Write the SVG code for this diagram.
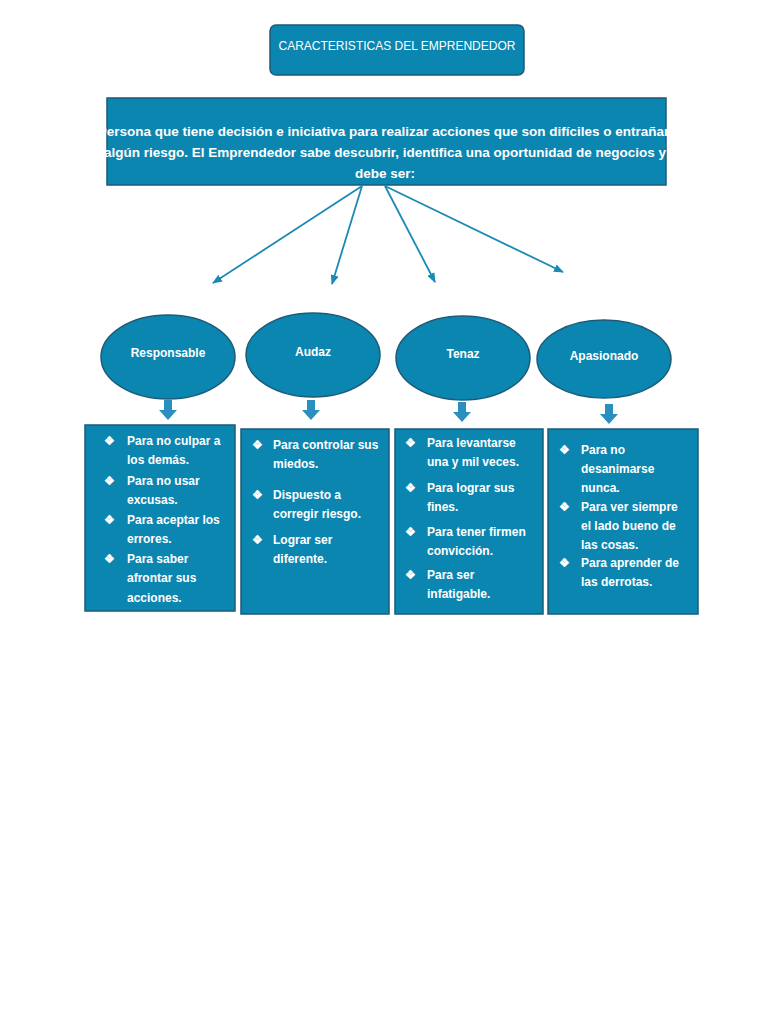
<svg xmlns="http://www.w3.org/2000/svg" width="768" height="1024" viewBox="0 0 768 1024">
<defs>
<style>
.b{fill:#0b86b0;stroke:#1d5b78;stroke-width:1.5}
.t{font-family:"Liberation Sans",Arial,sans-serif;font-weight:bold;fill:#fff;font-size:12px}
.h{font-family:"Liberation Sans",Arial,sans-serif;font-weight:bold;fill:#fff;font-size:13.5px;text-anchor:middle}
.c{stroke:#1a8ab5;stroke-width:1.8;fill:none;marker-end:url(#a)}
.d{fill:#2a8fbf}
</style>
<marker id="a" markerWidth="10" markerHeight="8" refX="9" refY="4" orient="auto" markerUnits="userSpaceOnUse"><path d="M0,0L10,4L0,8Z" fill="#1a8ab5"/></marker>
</defs>
<rect width="768" height="1024" fill="#fff"/>
<g id="title"><rect class="b" x="270" y="25" width="254" height="50" rx="6"/><text class="t" x="397" y="50" text-anchor="middle" font-weight="normal" style="font-weight:normal">CARACTERISTICAS DEL EMPRENDEDOR</text></g>
<g id="desc"><rect class="b" x="107" y="98" width="559" height="87"/>
<text class="h" x="385" y="136">Persona que tiene decisión e iniciativa para realizar acciones que son difíciles o entrañan</text>
<text class="h" x="385" y="157">algún riesgo. El Emprendedor sabe descubrir, identifica una oportunidad de negocios y</text>
<text class="h" x="385" y="178">debe ser:</text></g>
<g id="connectors">
<line class="c" x1="362" y1="186" x2="213" y2="283"/>
<line class="c" x1="362" y1="186" x2="332" y2="284"/>
<line class="c" x1="385" y1="186" x2="435" y2="282"/>
<line class="c" x1="385" y1="186" x2="563" y2="272"/>
<path class="d" d="M164,400h8v10h5l-9,10l-9,-10h5z"/>
<path class="d" d="M307,400h8v10h5l-9,10l-9,-10h5z"/>
<path class="d" d="M458,402h8v10h5l-9,10l-9,-10h5z"/>
<path class="d" d="M605,404h8v10h5l-9,10l-9,-10h5z"/>
</g>
<g id="n1"><ellipse class="b" cx="168" cy="357" rx="67" ry="42"/><text class="t" x="168" y="357" text-anchor="middle">Responsable</text></g>
<g id="n2"><ellipse class="b" cx="313" cy="355" rx="67" ry="42"/><text class="t" x="313" y="356" text-anchor="middle">Audaz</text></g>
<g id="n3"><ellipse class="b" cx="463" cy="358" rx="67" ry="42"/><text class="t" x="463" y="358" text-anchor="middle">Tenaz</text></g>
<g id="n4"><ellipse class="b" cx="604" cy="359" rx="67" ry="39"/><text class="t" x="604" y="360" text-anchor="middle">Apasionado</text></g>
<g id="l1"><rect class="b" x="85" y="425" width="150" height="186"/>
<g class="t"><text x="104" y="445">❖</text><text x="127" y="445">Para no culpar a</text><text x="127" y="464">los demás.</text>
<text x="104" y="485">❖</text><text x="127" y="485">Para no usar</text><text x="127" y="504">excusas.</text>
<text x="104" y="524">❖</text><text x="127" y="524">Para aceptar los</text><text x="127" y="543">errores.</text>
<text x="104" y="563">❖</text><text x="127" y="563">Para saber</text><text x="127" y="582">afrontar sus</text><text x="127" y="602">acciones.</text></g></g>
<g id="l2"><rect class="b" x="241" y="429" width="148" height="185"/>
<g class="t"><text x="252" y="449">❖</text><text x="273" y="449">Para controlar sus</text><text x="273" y="468">miedos.</text>
<text x="252" y="499">❖</text><text x="273" y="499">Dispuesto a</text><text x="273" y="518">corregir riesgo.</text>
<text x="252" y="544">❖</text><text x="273" y="544">Lograr ser</text><text x="273" y="563">diferente.</text></g></g>
<g id="l3"><rect class="b" x="395" y="429" width="148" height="185"/>
<g class="t"><text x="405" y="447">❖</text><text x="427" y="447">Para levantarse</text><text x="427" y="466">una y mil veces.</text>
<text x="405" y="492">❖</text><text x="427" y="492">Para lograr sus</text><text x="427" y="511">fines.</text>
<text x="405" y="536">❖</text><text x="427" y="536">Para tener firmen</text><text x="427" y="555">convicción.</text>
<text x="405" y="579">❖</text><text x="427" y="579">Para ser</text><text x="427" y="598">infatigable.</text></g></g>
<g id="l4"><rect class="b" x="548" y="429" width="150" height="185"/>
<g class="t"><text x="559" y="454">❖</text><text x="581" y="454">Para no</text><text x="581" y="473">desanimarse</text><text x="581" y="492">nunca.</text>
<text x="559" y="511">❖</text><text x="581" y="511">Para ver siempre</text><text x="581" y="530">el lado bueno de</text><text x="581" y="549">las cosas.</text>
<text x="559" y="567">❖</text><text x="581" y="567">Para aprender de</text><text x="581" y="586">las derrotas.</text></g></g>
</svg>
